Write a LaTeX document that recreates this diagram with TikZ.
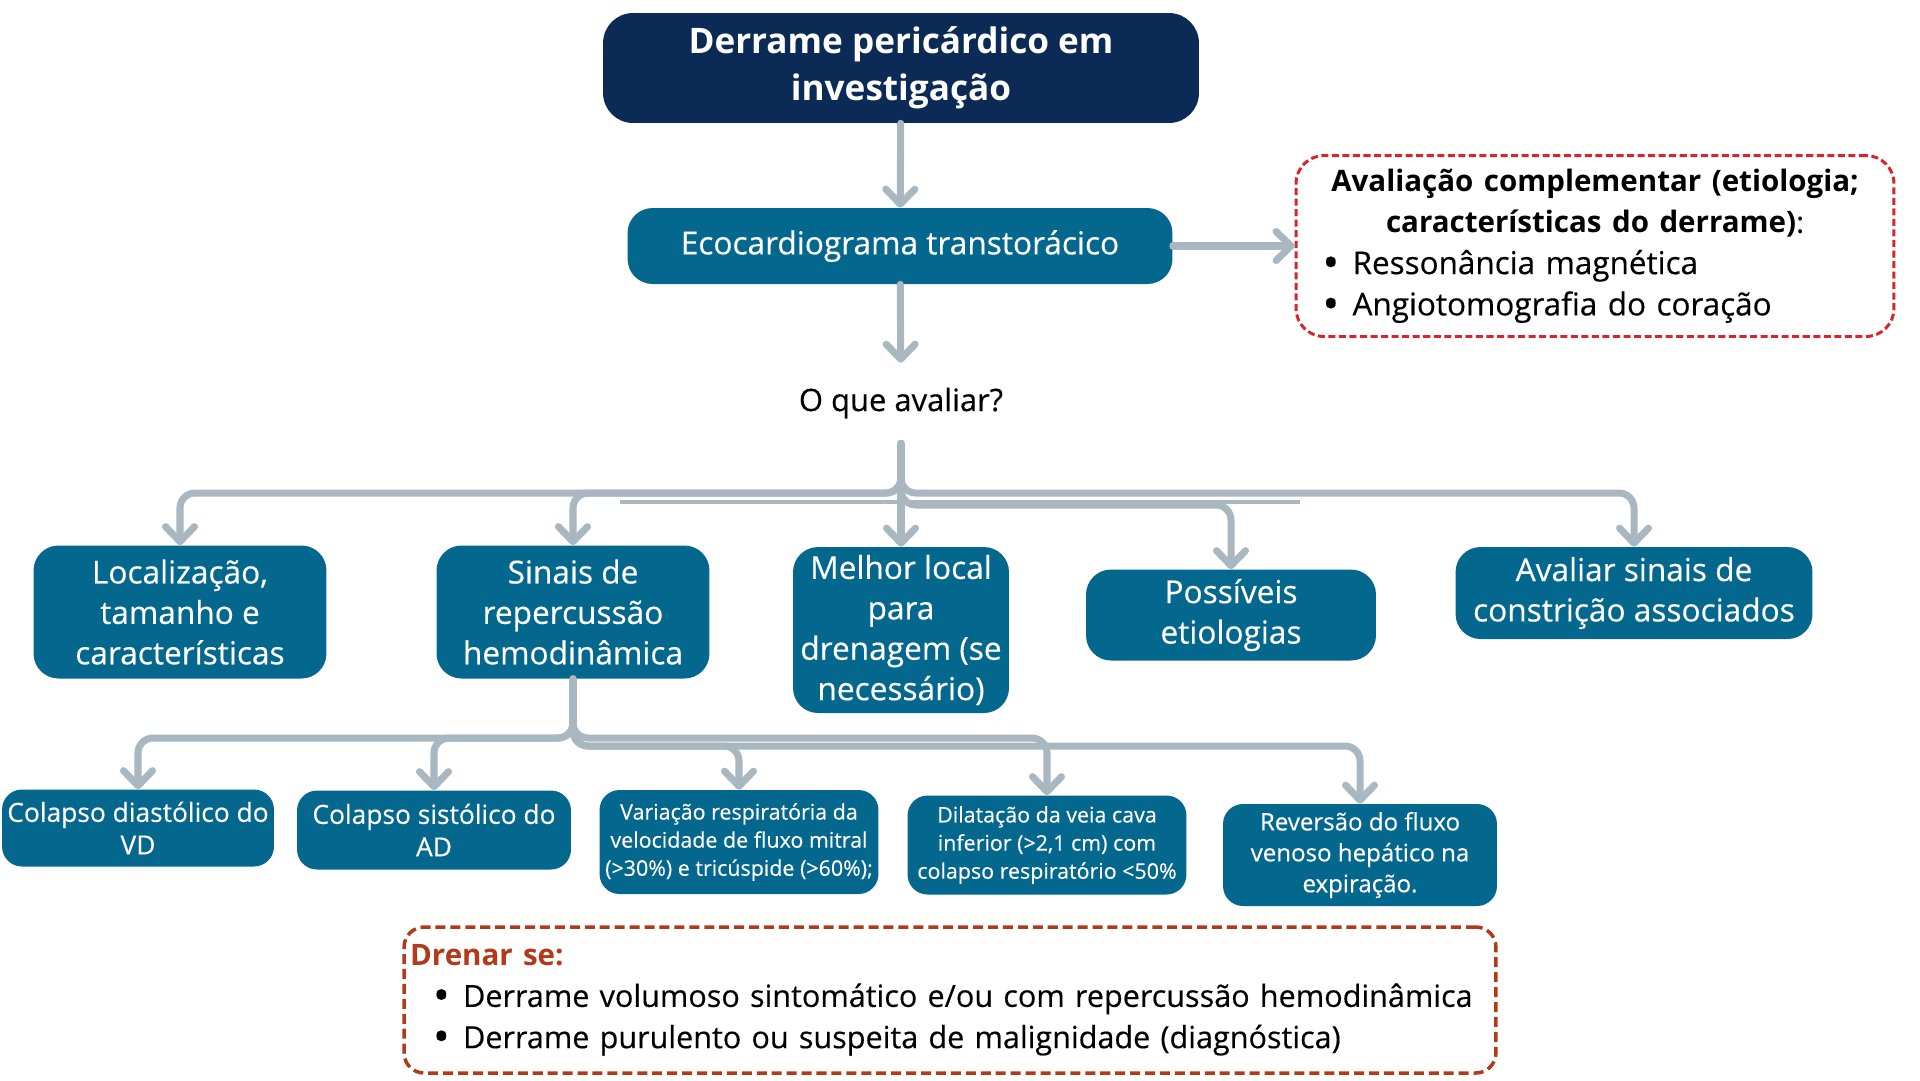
\documentclass[tikz,border=0pt]{standalone}
\usepackage{fontspec}
\setmainfont{Open Sans}[UprightFeatures={FakeBold=0.35}]
\usetikzlibrary{arrows.meta}
\definecolor{marinho}{RGB}{11,42,85}
\definecolor{petroleo}{RGB}{4,104,142}
\definecolor{cinza}{RGB}{169,183,193}
\definecolor{vermelho}{RGB}{214,37,43}
\definecolor{ferrugem}{RGB}{178,58,26}
\newcommand{\marca}{\raisebox{-0.12em}{\fontsize{25}{0}\selectfont •}}
\tikzset{
    base/.style={
        fill=petroleo,
        text=white,
        align=center,
        inner sep=0pt,
    },
    % Titulo
    titulo/.style={
        base,
        fill=marinho,
        rounded corners=0.6cm,
        font=\bfseries\fontsize{20}{27}\selectfont,
    },
    % Exame
    exame/.style={
        base,
        rounded corners=0.5cm,
        font=\fontsize{18}{24}\selectfont,
    },
    % O que avaliar
    caixa/.style={
        base,
        rounded corners=0.5cm,
        font=\fontsize{18}{23}\selectfont,
    },
    % Sinais de repercussao
    sinal/.style={
        base,
        rounded corners=0.4cm,
        font=\fontsize{15}{18.5}\selectfont,
    },
    sinalp/.style={
        sinal,
        font=\fontsize{12.2}{16}\selectfont,
    },
    % Caixas tracejadas
    nota/.style={
        fill=none,
        text=black,
        align=left,
        inner ysep=0pt,
    },
    % Conectores
    seta/.style={
        draw=cinza,
        line width=4pt,
        line cap=round,
        rounded corners=0.3cm,
        -{Straight Barb[length=0.3cm,width=0.58cm,round]},
    },
    fio/.style={
        draw=cinza,
        line width=2.3pt,
    },
}

\begin{document}
\begin{tikzpicture}[x=0.02cm,y=-0.02cm]
    \useasboundingbox (0,0) rectangle (1920,1080);
%TOPO%
    \node[titulo,minimum width=11.92cm,minimum height=2.2cm] (topo) at (901,68) {Derrame pericárdico em\\investigação};
    \node[exame,minimum width=10.9cm,minimum height=1.52cm] (eco) at (900,246) {Ecocardiograma transtorácico};
    \node[nota,draw=vermelho,line width=1.7pt,dash pattern=on 4pt off 2pt,rounded corners=0.56cm,
          font=\fontsize{17.9}{23.5}\selectfont,
          minimum width=11.96cm,minimum height=3.62cm,text width=10.9cm] (aval) at (1595,246)
        {{\centering\bfseries\fontsize{16.8}{23.5}\selectfont Avaliação complementar (etiologia;\\características do derrame)\mdseries:\par}
         \makebox[0.6cm][l]{\marca}Ressonância magnética\\
         \makebox[0.6cm][l]{\marca}Angiotomografia do coração};
    \node[font=\fontsize{17.6}{20}\selectfont,minimum height=1.6cm,inner sep=0pt] (pergunta) at (901,403) {O que avaliar?};

%NIVEL2%
    \node[caixa,minimum width=5.86cm,minimum height=2.66cm] (loc) at (180,612) {Localização,\\tamanho e\\características};
    \node[caixa,minimum width=5.46cm,minimum height=2.66cm] (sinais) at (573,612) {Sinais de\\repercussão\\hemodinâmica};
    \node[caixa,minimum width=4.32cm,minimum height=3.32cm] (melhor) at (901,630) {Melhor local\\para\\drenagem (se\\necessário)};
    \node[caixa,minimum width=5.8cm,minimum height=1.82cm] (poss) at (1231,615) {Possíveis\\etiologias};
    \node[caixa,minimum width=7.14cm,minimum height=1.84cm] (avaliar) at (1634,593) {Avaliar sinais de\\constrição associados};

%NIVEL3%
    \node[sinal,minimum width=5.44cm,minimum height=1.54cm] (colD) at (138,828) {Colapso diastólico do\\VD};
    \node[sinal,minimum width=5.48cm,minimum height=1.58cm] (colS) at (434,830) {Colapso sistólico do\\AD};
    \node[sinalp,minimum width=5.58cm,minimum height=2.08cm] (var) at (739,842) {Variação respiratória da\\velocidade de fluxo mitral\\(>30\%) e tricúspide (>60\%);};
    \node[sinalp,minimum width=5.58cm,minimum height=1.98cm] (dil) at (1047,845) {Dilatação da veia cava\\inferior (>2,1 cm) com\\colapso respiratório <50\%};
    \node[sinal,font=\fontsize{13.7}{17.6}\selectfont,minimum width=5.48cm,minimum height=2.04cm] (rev) at (1360,855) {Reversão do fluxo\\venoso hepático na\\expiração.};

%DRENAR%
    \node[nota,draw=ferrugem,line width=2pt,dash pattern=on 5.7pt off 2.8pt,rounded corners=0.4cm,
          font=\fontsize{17.4}{23.5}\selectfont,
          inner xsep=0.12cm,minimum width=21.84cm,minimum height=2.92cm,text width=21.6cm] (drenar) at (950,1000)
        {{\color{ferrugem}\bfseries\fontsize{16.8}{23.5}\selectfont Drenar se:}\\
         \hspace*{0.46cm}\makebox[0.6cm][l]{\marca}\mbox{Derrame volumoso sintomático e/ou com repercussão hemodinâmica}\\
         \hspace*{0.46cm}\makebox[0.6cm][l]{\marca}\mbox{Derrame purulento ou suspeita de malignidade (diagnóstica)}};

    % Barramentos
    \coordinate (bus1) at (901,493);
    \coordinate (bus2) at (901,505);
    \coordinate (bus3) at (573,738);
    \coordinate (bus4) at (573,746);
    \coordinate (fioA) at (620,502);
    \coordinate (fioB) at (1300,502);

    \draw[seta] (topo) -- (eco);
    \draw[seta] (eco) -- (pergunta);
    \draw[seta] (eco) -- (aval);
    \draw[fio] (fioA) -- (fioB);
    \draw[seta] (pergunta.south) -- (bus1) -| (loc.north);
    \draw[seta] (pergunta.south) -- (bus1) -| (sinais.north);
    \draw[seta] (pergunta.south) -- (melhor.north);
    \draw[seta] (pergunta.south) -- (bus2) -| (poss.north);
    \draw[seta] (pergunta.south) -- (bus1) -| (avaliar.north);

    \draw[seta] (sinais.south) -- (bus3) -| (colD.north);
    \draw[seta] (sinais.south) -- (bus3) -| (colS.north);
    \draw[seta] (sinais.south) -- (bus4) -| (var.north);
    \draw[seta] (sinais.south) -- (bus3) -| (dil.north);
    \draw[seta] (sinais.south) -- (bus4) -| (rev.north);
\end{tikzpicture}
\end{document}
